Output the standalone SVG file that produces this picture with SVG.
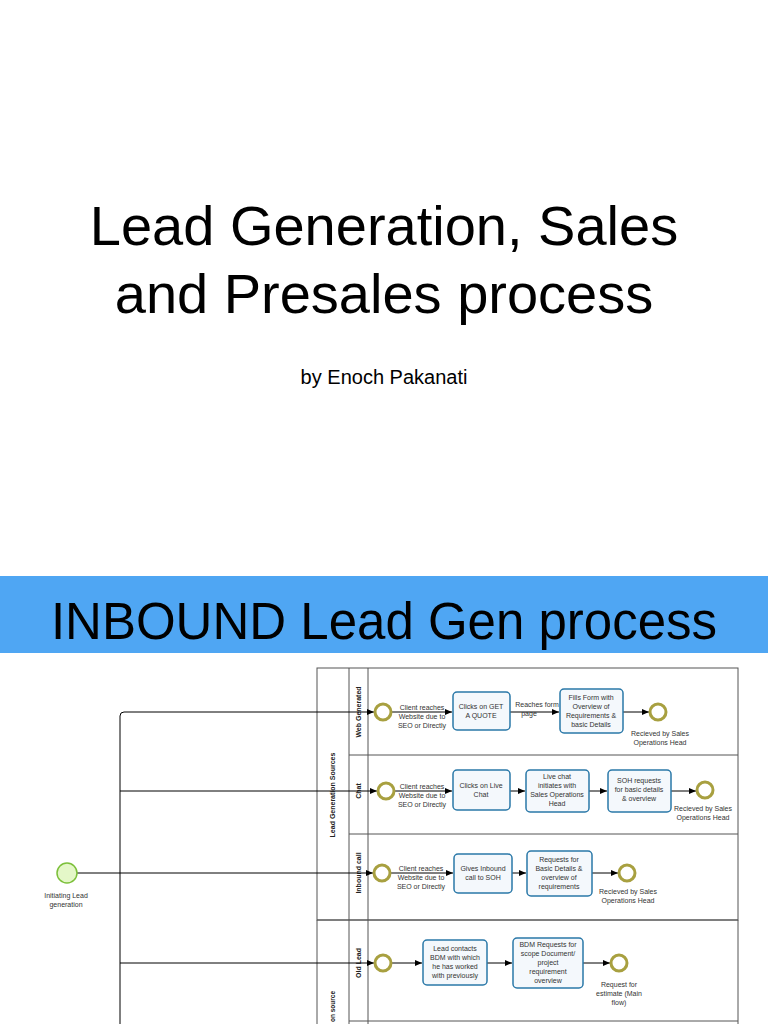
<svg xmlns="http://www.w3.org/2000/svg" width="768" height="1024" viewBox="0 0 768 1024">
<style>
.t{font-family:"Helvetica Neue","Liberation Sans",Arial,sans-serif;font-weight:300;fill:#000}
.s{font-family:"Liberation Sans",Arial,sans-serif;font-size:7px;fill:#333;text-anchor:middle}
.b{font-family:"Liberation Sans",Arial,sans-serif;font-size:7px;font-weight:bold;fill:#222;text-anchor:middle}
.task{fill:#f4f8fc;stroke:#2a78a8;stroke-width:1.5}
.ev{fill:#fff;stroke:#a8a040;stroke-width:3}
.ln{stroke:#000;stroke-width:1;fill:none}
.lane{stroke:#555;stroke-width:1;fill:none}
</style>
<defs>
<marker id="a" markerWidth="8" markerHeight="8" refX="7" refY="4" orient="auto" markerUnits="userSpaceOnUse"><path d="M0,1 L7,4 L0,7 Z" fill="#000"/></marker>
</defs>
<rect width="768" height="1024" fill="#fff"/>
<text class="t" x="384" y="245" font-size="56" text-anchor="middle">Lead Generation, Sales</text>
<text class="t" x="384" y="313" font-size="56" text-anchor="middle">and Presales process</text>
<text class="t" x="384" y="384" font-size="20" text-anchor="middle">by Enoch Pakanati</text>
<rect x="0" y="576" width="768" height="77" fill="#4fa6f3"/>
<text class="t" x="384" y="639" font-size="51" text-anchor="middle" font-weight="400">INBOUND Lead Gen process</text>

<g id="pools">
<rect x="317" y="668" width="421" height="252" class="lane" stroke="#333"/>
<line x1="349" y1="668" x2="349" y2="1024" class="lane"/>
<line x1="368" y1="668" x2="368" y2="1024" class="lane" stroke="#999"/>
<line x1="349" y1="755" x2="738" y2="755" class="lane"/>
<line x1="349" y1="834" x2="738" y2="834" class="lane"/>
<path d="M317,1024 V920 H738 V1024" class="lane" stroke="#333"/>
<line x1="349" y1="1021" x2="738" y2="1021" class="lane"/>
<text class="b" transform="translate(335,795) rotate(-90)">Lead Generation Sources</text>
<text class="b" transform="translate(335,991) rotate(-90)" style="text-anchor:end;font-size:6.5px">on source</text>
<text class="b" transform="translate(361,712) rotate(-90)">Web Generated</text>
<text class="b" transform="translate(361,791) rotate(-90)">Chat</text>
<text class="b" transform="translate(361,873) rotate(-90)">Inbound call</text>
<text class="b" transform="translate(361,963) rotate(-90)">Old Lead</text>
</g>

<g id="connectors">
<path d="M77,873 H120" class="ln"/>
<path d="M120,1024 V716 Q120,712 124,712 H374" class="ln" marker-end="url(#a)"/>
<path d="M120,791 H377" class="ln" marker-end="url(#a)"/>
<path d="M120,873 H373" class="ln" marker-end="url(#a)"/>
<path d="M120,963 H374" class="ln" marker-end="url(#a)"/>
<path d="M391,712 H452" class="ln" marker-end="url(#a)"/>
<path d="M510,712 H559" class="ln" marker-end="url(#a)"/>
<path d="M623,712 H649" class="ln" marker-end="url(#a)"/>
<path d="M394,791 H452" class="ln" marker-end="url(#a)"/>
<path d="M510,791 H525" class="ln" marker-end="url(#a)"/>
<path d="M589,791 H607" class="ln" marker-end="url(#a)"/>
<path d="M671,791 H696" class="ln" marker-end="url(#a)"/>
<path d="M390,873 H453" class="ln" marker-end="url(#a)"/>
<path d="M512,873 H526" class="ln" marker-end="url(#a)"/>
<path d="M592,873 H618" class="ln" marker-end="url(#a)"/>
<path d="M391,963 H422" class="ln" marker-end="url(#a)"/>
<path d="M487,963 H512" class="ln" marker-end="url(#a)"/>
<path d="M583,963 H610" class="ln" marker-end="url(#a)"/>
<text class="s" x="422" y="710">Client reaches</text>
<text class="s" x="422" y="719">Website due to</text>
<text class="s" x="422" y="728">SEO or Directly</text>
<text class="s" x="537" y="707">Reaches form</text>
<text class="s" x="529" y="716">page</text>
<text class="s" x="422" y="789">Client reaches</text>
<text class="s" x="422" y="798">Website due to</text>
<text class="s" x="422" y="807">SEO or Directly</text>
<text class="s" x="421" y="871">Client reaches</text>
<text class="s" x="421" y="880">Website due to</text>
<text class="s" x="421" y="889">SEO or Directly</text>
</g>

<g id="start"><circle cx="67" cy="873" r="10" fill="#e4f7c8" stroke="#7cc03a" stroke-width="1.5"/>
<text class="s" x="66" y="898">Initiating Lead</text><text class="s" x="66" y="907">generation</text></g>

<g id="w1"><circle cx="383" cy="712" r="8" class="ev"/></g>
<g id="w2"><rect x="453" y="692" width="57" height="38" rx="4" class="task"/><text class="s" x="481" y="709">Clicks  on GET</text><text class="s" x="481" y="718">A QUOTE</text></g>
<g id="w3"><rect x="560" y="689" width="63" height="44" rx="4" class="task"/><text class="s" x="591" y="700">Fills Form with</text><text class="s" x="591" y="709">Overview of</text><text class="s" x="591" y="718">Requirements &amp;</text><text class="s" x="591" y="727">basic Details</text></g>
<g id="w4"><circle cx="658" cy="712" r="8" class="ev"/><text class="s" x="660" y="736">Recieved by Sales</text><text class="s" x="660" y="745">Operations Head</text></g>

<g id="c1"><circle cx="386" cy="791" r="8" class="ev"/></g>
<g id="c2"><rect x="453" y="770" width="57" height="40" rx="4" class="task"/><text class="s" x="481" y="788">Clicks on Live</text><text class="s" x="481" y="797">Chat</text></g>
<g id="c3"><rect x="526" y="770" width="63" height="42" rx="4" class="task"/><text class="s" x="557" y="779">Live chat</text><text class="s" x="557" y="788">initiates with</text><text class="s" x="557" y="797">Sales Operations</text><text class="s" x="557" y="806">Head</text></g>
<g id="c4"><rect x="608" y="770" width="63" height="42" rx="4" class="task"/><text class="s" x="639" y="783">SOH requests</text><text class="s" x="639" y="792">for basic  details</text><text class="s" x="639" y="801">&amp; overview</text></g>
<g id="c5"><circle cx="705" cy="790" r="8" class="ev"/><text class="s" x="703" y="811">Recieved by Sales</text><text class="s" x="703" y="820">Operations Head</text></g>

<g id="i1"><circle cx="382" cy="873" r="8" class="ev"/></g>
<g id="i2"><rect x="454" y="854" width="58" height="39" rx="4" class="task"/><text class="s" x="483" y="871">Gives Inbound</text><text class="s" x="483" y="880">call to SOH</text></g>
<g id="i3"><rect x="527" y="851" width="65" height="45" rx="4" class="task"/><text class="s" x="559" y="862">Requests for</text><text class="s" x="559" y="871">Basic Details &amp;</text><text class="s" x="559" y="880">overview of</text><text class="s" x="559" y="889">requirements</text></g>
<g id="i4"><circle cx="627" cy="873" r="8" class="ev"/><text class="s" x="628" y="894">Recieved by Sales</text><text class="s" x="628" y="903">Operations Head</text></g>

<g id="o1"><circle cx="383" cy="963" r="8" class="ev"/></g>
<g id="o2"><rect x="423" y="940" width="64" height="45" rx="4" class="task"/><text class="s" x="455" y="951">Lead contacts</text><text class="s" x="455" y="960">BDM with which</text><text class="s" x="455" y="969">he has worked</text><text class="s" x="455" y="978">with previously</text></g>
<g id="o3"><rect x="513" y="938" width="70" height="50" rx="4" class="task"/><text class="s" x="548" y="947">BDM Requests for</text><text class="s" x="548" y="956">scope Document/</text><text class="s" x="548" y="965">project</text><text class="s" x="548" y="974">requirement</text><text class="s" x="548" y="983">overview</text></g>
<g id="o4"><circle cx="619" cy="963" r="8" class="ev"/><text class="s" x="619" y="987">Request for</text><text class="s" x="619" y="996">estimate (Main</text><text class="s" x="619" y="1005">flow)</text></g>
</svg>
